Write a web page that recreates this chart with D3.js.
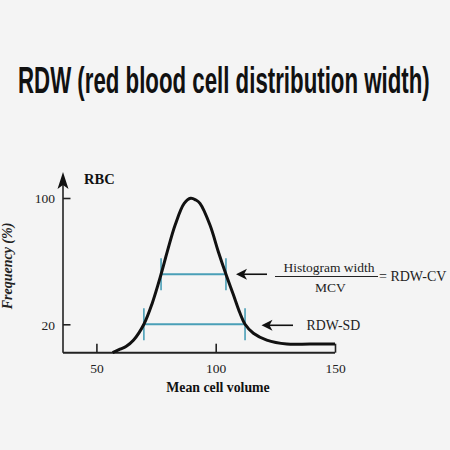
<!DOCTYPE html>
<html><head><meta charset="utf-8">
<script src="https://cdn.jsdelivr.net/npm/d3@7"></script>
<style>html,body{margin:0;padding:0;background:#f4f4f4;}svg{display:block;}</style>
</head><body>
<script>
// data
const curveMCV  = [56.8,59.9,62.4,65.6,69.9,73.3,77.1,79.7,83.0,86.8,89.5,91.7,93.4,97.6,101.1,104.3,107.3,110.2,112.3,115.8,121.4,129.8,139.5,150];
const curveFreq = [2.0,4.2,5.9,10.0,20.0,32.9,51.7,66.0,82.9,96.6,99.8,98.7,96.6,82.9,66.0,51.7,39.2,27.0,20.0,14.3,10.0,7.5,7.5,7.5];
const xTicks = [50,100,150];
const yTicks = [20,100];
const widthLevels = [51.7,20];
const widthStart = [77.1,69.9];
const widthEnd = [104.3,112.3];

const W=450,H=450;
const svg=d3.select("body").append("svg").attr("width",W).attr("height",H);
svg.append("rect").attr("width",W).attr("height",H).attr("fill","#f4f4f4");

const x=d3.scaleLinear().domain([36,150]).range([63,335]);
const y=d3.scaleLinear().domain([2,100]).range([352.7,198]);
const serif="'Liberation Serif','Times New Roman',serif";

// title (condensed by horizontal scaling)
const title=svg.append("text").attr("x",0).attr("y",0)
  .attr("font-family","'Liberation Sans Narrow','Arial Narrow','Liberation Sans',Arial,sans-serif")
  .attr("font-weight","bold").attr("font-size",37).attr("fill","#111")
  .text("RDW (red blood cell distribution width)");
const tw=title.node().getComputedTextLength();
title.attr("transform",`translate(18,93) scale(${412/tw},1)`);

// x axis line
svg.append("line").attr("x1",x(36)).attr("x2",x(150)).attr("y1",y(2)).attr("y2",y(2))
  .attr("stroke","#222").attr("stroke-width",2);
// y axis line + arrow
svg.append("line").attr("x1",x(36)).attr("x2",x(36)).attr("y1",y(2)).attr("y2",185)
  .attr("stroke","#222").attr("stroke-width",1.6);
svg.append("path").attr("d",`M${x(36)},172 L${x(36)-5.5},189 L${x(36)},185 L${x(36)+5.5},189 Z`).attr("fill","#111");

// x ticks (inward)
const xAxis=d3.axisBottom(x).tickValues(xTicks).tickSize(-9).tickPadding(20).tickFormat(d3.format("d"));
const gx=svg.append("g").attr("transform",`translate(0,${y(2)})`).call(xAxis);
gx.select(".domain").remove();
gx.selectAll(".tick line").attr("stroke","#222").attr("stroke-width",1.6);
gx.selectAll(".tick text").attr("font-family",serif).attr("font-size",13.5).attr("fill","#222").attr("dy","0");

// y ticks (inward)
const yAxis=d3.axisLeft(y).tickValues(yTicks).tickSize(-7.5).tickPadding(15);
const gy=svg.append("g").attr("transform",`translate(${x(36)},0)`).call(yAxis);
gy.select(".domain").remove();
gy.selectAll(".tick line").attr("stroke","#222").attr("stroke-width",1.6);
gy.selectAll(".tick text").attr("font-family",serif).attr("font-size",13.5).attr("fill","#222").attr("dy","0.35em").attr("x",-8);

// RBC label
svg.append("text").attr("x",84).attr("y",183.5).attr("font-family",serif).attr("font-weight","bold")
  .attr("font-size",14.5).attr("fill","#111").text("RBC");

// y label
svg.append("text").attr("transform","translate(12,266) rotate(-90)").attr("text-anchor","middle")
  .attr("font-family",serif).attr("font-weight","bold").attr("font-style","italic")
  .attr("font-size",14).attr("fill","#222").text("Frequency (%)");
// x label
svg.append("text").attr("x",218).attr("y",391.5).attr("text-anchor","middle")
  .attr("font-family",serif).attr("font-weight","bold").attr("font-size",13.8).attr("fill","#111")
  .text("Mean cell volume");

// width lines
const blue="#4a9fb7";
widthLevels.forEach((lv,i)=>{
  svg.append("line").attr("x1",x(widthStart[i])).attr("x2",x(widthEnd[i])).attr("y1",y(lv)).attr("y2",y(lv))
    .attr("stroke",blue).attr("stroke-width",2);
  [widthStart[i],widthEnd[i]].forEach(v=>{
    svg.append("line").attr("x1",x(v)).attr("x2",x(v)).attr("y1",y(lv)-16).attr("y2",y(lv)+16)
      .attr("stroke",blue).attr("stroke-width",1.6);
  });
});

// curve
const pts=curveMCV.map((v,i)=>[v,curveFreq[i]]);
svg.append("path").datum(pts)
  .attr("d",d3.line().x(d=>x(d[0])).y(d=>y(d[1])).curve(d3.curveCatmullRom.alpha(0.5)))
  .attr("fill","none").attr("stroke","#111").attr("stroke-width",3).attr("stroke-linejoin","round");

// arrows
function arrow(tipX,tipY,endX){
  svg.append("line").attr("x1",tipX+6).attr("x2",endX).attr("y1",tipY).attr("y2",tipY).attr("stroke","#111").attr("stroke-width",1.6);
  svg.append("path").attr("d",`M${tipX},${tipY} L${tipX+11},${tipY-5.5} L${tipX+8},${tipY} L${tipX+11},${tipY+5.5} Z`).attr("fill","#111");
}
arrow(236,y(widthLevels[0]),267);
arrow(261.5,y(widthLevels[1])+1,293);

// fraction text
svg.append("text").attr("x",329).attr("y",271.5).attr("text-anchor","middle").attr("font-family",serif)
  .attr("font-size",13.5).attr("fill","#222").text("Histogram width");
svg.append("line").attr("x1",275).attr("x2",378).attr("y1",276.5).attr("y2",276.5).attr("stroke","#222").attr("stroke-width",1.2);
svg.append("text").attr("x",330.5).attr("y",292).attr("text-anchor","middle").attr("font-family",serif)
  .attr("font-size",13.5).attr("fill","#222").text("MCV");
svg.append("text").attr("x",379).attr("y",281).attr("font-family",serif)
  .attr("font-size",14).attr("fill","#222").text("= RDW-CV");
svg.append("text").attr("x",306.5).attr("y",329.5).attr("font-family",serif)
  .attr("font-size",13.8).attr("fill","#222").text("RDW-SD");
</script>
</body></html>
